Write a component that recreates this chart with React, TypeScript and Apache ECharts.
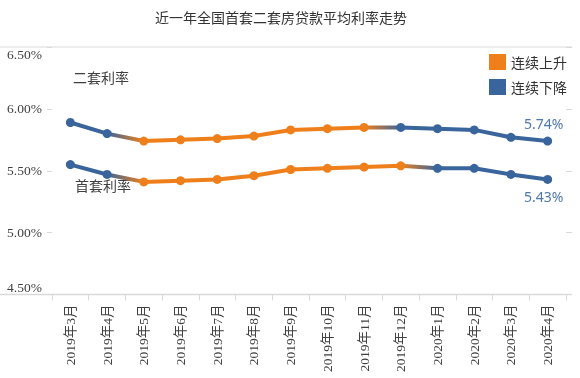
import React, { useEffect, useRef } from "react";
import * as echarts from "echarts";

const months = [
  "2019年3月", "2019年4月", "2019年5月", "2019年6月", "2019年7月", "2019年8月", "2019年9月",
  "2019年10月", "2019年11月", "2019年12月", "2020年1月", "2020年2月", "2020年3月", "2020年4月",
];
const secondRate = [5.89, 5.80, 5.74, 5.75, 5.76, 5.78, 5.83, 5.84, 5.85, 5.85, 5.84, 5.83, 5.77, 5.74];
const firstRate = [5.55, 5.47, 5.41, 5.42, 5.43, 5.46, 5.51, 5.52, 5.53, 5.54, 5.52, 5.52, 5.47, 5.43];
// trend classification of each point: "up" = 连续上升, "down" = 连续下降
const secondTrend = ["down", "down", "up", "up", "up", "up", "up", "up", "up", "down", "down", "down", "down", "down"];
const firstTrend = ["down", "down", "up", "up", "up", "up", "up", "up", "up", "up", "down", "down", "down", "down"];
const yTicks = [4.5, 5.0, 5.5, 6.0, 6.5];

const UP = "#ef7f1a";
const DOWN = "#3a659c";
const LABEL_BLUE = "#4f78ad";
const TEXT = "#404040";
const AXIS = "#d9d9d9";

function buildSeries(name: string, values: number[], trend: string[], labelPos: "top" | "bottom") {
  const n = values.length;
  const colorOf = (t: string) => (t === "up" ? UP : DOWN);
  const stops = trend.map((t, i) => ({ offset: i / (n - 1), color: colorOf(t) }));
  return {
    name,
    type: "line",
    xAxisIndex: 0,
    yAxisIndex: 0,
    symbol: "circle",
    symbolSize: 9,
    lineStyle: { width: 4, color: new echarts.graphic.LinearGradient(0, 0, 1, 0, stops) },
    data: values.map((v, i) => ({
      value: v,
      itemStyle: { color: colorOf(trend[i]) },
      label:
        i === n - 1
          ? {
              show: true,
              position: labelPos,
              distance: 6,
              offset: [-4, 0],
              color: LABEL_BLUE,
              fontSize: 14,
              fontFamily: "Noto Sans, sans-serif",
              formatter: (p: any) => `${Number(p.value).toFixed(2)}%`,
            }
          : { show: false },
    })),
    emphasis: { disabled: true },
    z: 3,
  };
}

export default function App() {
  const ref = useRef<HTMLDivElement>(null);
  useEffect(() => {
    if (!ref.current) return;
    const chart = echarts.init(ref.current, undefined, { renderer: "svg" });
    const left = 52;
    const right = 14;
    const top = 47;
    const bottom = 83.5;
    chart.setOption({
      animation: false,
      title: {
        text: "近一年全国首套二套房贷款平均利率走势",
        left: 150,
        top: 5,
        textStyle: { fontSize: 14, fontWeight: "normal", color: "#333", fontFamily: "Noto Sans CJK SC" },
      },
      legend: {
        data: ["连续上升", "连续下降"],
        orient: "vertical",
        right: 8,
        top: 49,
        icon: "rect",
        itemWidth: 17,
        itemHeight: 16,
        itemGap: 9,
        selectedMode: false,
        textStyle: { fontSize: 14, color: "#333", fontFamily: "Noto Sans CJK SC" },
      },
      grid: { left, right, top, bottom },
      xAxis: {
        type: "category",
        data: months,
        boundaryGap: true,
        axisLine: { show: false },
        axisTick: { show: true, length: 6, lineStyle: { color: AXIS } },
        axisLabel: {
          rotate: 90,
          interval: 0,
          margin: 10,
          fontSize: 13.5,
          color: TEXT,
          fontFamily: "Liberation Serif, Noto Sans CJK SC",
        },
      },
      yAxis: [
        {
          type: "value",
          min: yTicks[0],
          max: yTicks[yTicks.length - 1],
          interval: 0.5,
          axisLine: { show: false },
          axisTick: { show: true, length: 5, lineStyle: { color: AXIS } },
          splitLine: { show: false },
          axisLabel: {
            align: "left",
            margin: 45,
            fontSize: 13.5,
            color: TEXT,
            fontFamily: "Liberation Serif",
            verticalAlignMaxLabel: "top",
            verticalAlignMinLabel: "bottom",
            formatter: (v: number) => `${v.toFixed(2)}%`,
          },
        },
        {
          type: "value",
          position: "right",
          min: yTicks[0],
          max: yTicks[yTicks.length - 1],
          interval: 0.5,
          axisLine: { show: false },
          axisTick: { show: true, length: 6, lineStyle: { color: AXIS } },
          splitLine: { show: false },
          axisLabel: { show: false },
        },
      ],
      graphic: [
        { type: "line", shape: { x1: 0, y1: top, x2: 572, y2: top }, style: { stroke: AXIS, lineWidth: 1 }, silent: true },
        { type: "line", shape: { x1: 0, y1: 378 - bottom, x2: 572, y2: 378 - bottom }, style: { stroke: AXIS, lineWidth: 1.5 }, silent: true },
        { type: "text", left: 73, top: 70, style: { text: "二套利率", fontSize: 14, fill: TEXT, fontFamily: "Noto Sans CJK SC" }, silent: true },
        { type: "text", left: 75, top: 178, style: { text: "首套利率", fontSize: 14, fill: TEXT, fontFamily: "Noto Sans CJK SC" }, silent: true },
      ],
      series: [
        buildSeries("二套利率", secondRate, secondTrend, "top"),
        buildSeries("首套利率", firstRate, firstTrend, "bottom"),
        { name: "连续上升", type: "line", data: [], itemStyle: { color: UP }, lineStyle: { color: UP } },
        { name: "连续下降", type: "line", data: [], itemStyle: { color: DOWN }, lineStyle: { color: DOWN } },
      ],
    });
    return () => chart.dispose();
  }, []);
  return <div ref={ref} style={{ position: "fixed", left: 0, top: 0, width: 580, height: 378 }} />;
}
